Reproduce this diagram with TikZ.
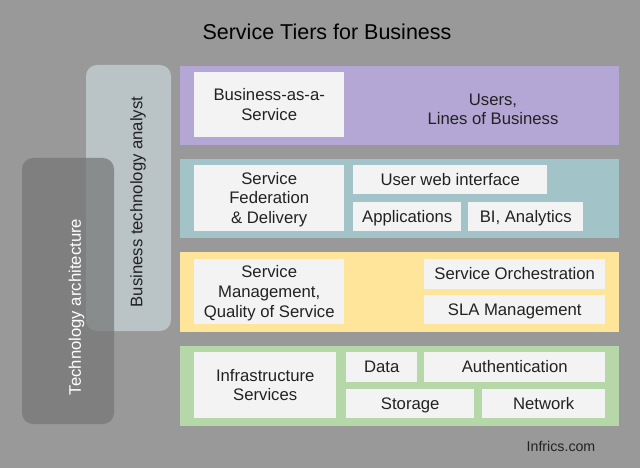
\documentclass[tikz,border=0pt]{standalone}
\usepackage{fontspec}
\setmainfont{Liberation Sans}
\definecolor{bgc}{HTML}{999999}
\definecolor{purp}{HTML}{B4A7D6}
\definecolor{teal2}{HTML}{A2C4C9}
\definecolor{yel}{HTML}{FFE599}
\definecolor{grn}{HTML}{B6D7A8}
\definecolor{wht}{HTML}{F3F3F3}
\definecolor{lteal}{HTML}{D0E0E3}
\definecolor{dgr}{HTML}{737373}
\definecolor{ink}{HTML}{222222}
\tikzset{x=1pt,y=-1pt,
 wbox/.style={fill=wht,draw=none,inner sep=0pt,align=center,font=\fontsize{16.7}{19.6}\selectfont,text=ink},
}
\newcommand{\bx}[6]{\node[wbox,minimum width=#4pt-#2pt,minimum height=#5pt-#3pt,anchor=north west] (#1) at (#2,#3) {\rule{0pt}{15pt}#6\vphantom{Ag}};}
\begin{document}
\begin{tikzpicture}
\useasboundingbox (0,0) rectangle (640,468);
\fill[bgc] (0,0) rectangle (640,468);
\node (title) at (327,32) {\fontsize{21.5}{25}\selectfont Service Tiers for Business};
\fill[purp] (180,66) rectangle (619,145);
\fill[teal2] (180,159) rectangle (619,238);
\fill[yel] (180,252) rectangle (619,332);
\fill[grn] (180,346) rectangle (619,426);
\fill[rounded corners=11pt,fill=lteal,fill opacity=.6] (86,65) rectangle (171,331);
\node[rotate=90,text=ink,font=\fontsize{16.7}{19}\selectfont] (bta) at (138,202) {Business technology analyst};
\fill[rounded corners=11pt,fill=dgr,fill opacity=.68] (22,158) rectangle (114,424);
\node[rotate=90,text=white,font=\fontsize{16.7}{19}\selectfont] (ta) at (76.5,307) {Technology architecture};
\bx{a}{194}{72}{344}{137}{Business-as-a-\\Service}
\node[align=center,font=\fontsize{16.7}{19.6}\selectfont,text=ink] (users) at (493,109.5) {\vphantom{Ag}Users,\\Lines of Business};
\bx{b}{194}{165}{344}{231}{Service\\Federation\\\& Delivery}
\bx{c}{353}{165}{547}{194}{User web interface}
\bx{d}{353}{202}{461}{231}{Applications}
\bx{e}{468}{202}{583}{231}{BI, Analytics}
\bx{f}{194}{259}{344}{324}{Service\\Management,\\Quality of Service}
\bx{g}{424}{259}{605}{289}{Service Orchestration}
\bx{h}{424}{295}{605}{324}{SLA Management}
\bx{i}{194}{352}{336}{418}{Infrastructure\\Services}
\bx{j}{346}{352}{417}{382}{Data}
\bx{k}{424}{352}{605}{382}{Authentication}
\bx{l}{346}{389}{474}{418}{Storage}
\bx{m}{482}{389}{605}{418}{Network}
\node[font=\fontsize{14.2}{16}\selectfont,text=ink] (src) at (561,446) {Infrics.com};
\end{tikzpicture}
\end{document}
